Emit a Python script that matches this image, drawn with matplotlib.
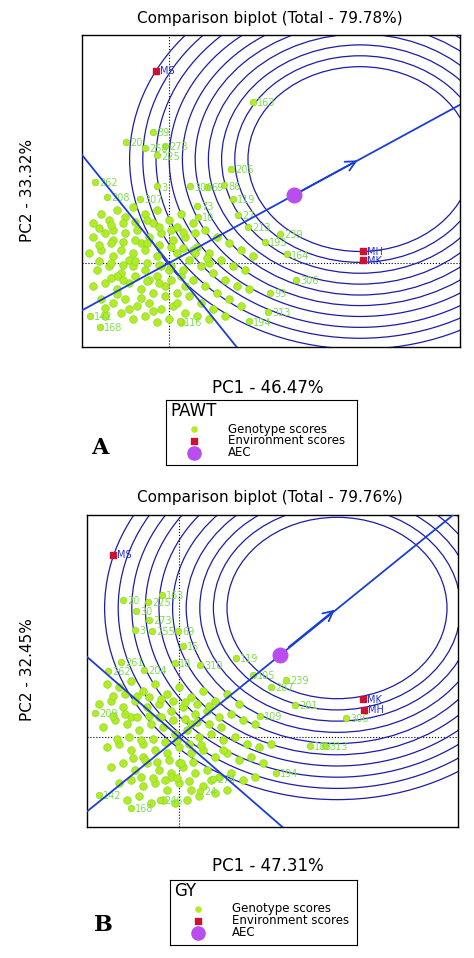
import matplotlib
matplotlib.use("Agg")
import matplotlib.pyplot as plt
import numpy as np
from matplotlib.patches import Ellipse

# ---------------- Panel A data (PAWT) ----------------
A_title = "Comparison biplot (Total - 79.78%)"
A_xlabel = "PC1 - 46.47%"
A_ylabel = "PC2 - 33.32%"
A_lab_names = ["163","39","20","258","273","225","205","262","3","306","69","86","119","208","307","73","10","27","213","239","193","164","306","93","313","194","116","142","168"]
A_lab_x = [2.1,-0.4,-1.07,-0.6,-0.1,-0.3,1.55,-1.85,-0.3,0.52,0.95,1.37,1.6,-1.55,-0.72,0.7,0.72,1.72,1.97,2.77,2.4,2.95,3.17,2.52,2.47,2.0,0.27,-1.97,-1.72]
A_lab_y = [4.87,3.97,3.68,3.48,3.55,3.26,2.84,2.45,2.32,2.32,2.3,2.35,1.94,2.0,1.94,1.74,1.39,1.45,1.1,0.87,0.65,0.26,-0.52,-0.9,-1.48,-1.77,-1.77,-1.6,-1.93]
A_cloud_x = [-1.9,-1.7,-1.5,-1.3,-1.1,-0.9,-0.6,-0.3,0.0,0.3,0.6,0.9,1.2,1.5,1.8,2.1,
             -1.9,-1.6,-1.4,-1.1,-0.8,-0.5,-0.2,0.1,0.4,0.7,1.0,1.3,1.6,1.9,
             -2.0,-1.7,-1.4,-1.2,-0.9,-0.6,-0.3,0.2,0.5,0.8,1.1,1.4,1.7,2.0,
             -1.8,-1.5,-1.2,-0.9,-0.6,-0.3,0.0,0.3,0.6,0.9,1.2,1.5,1.8,
             -1.9,-1.6,-1.3,-1.0,-0.7,-0.4,-0.1,0.2,0.5,0.8,1.1,1.4,
             -1.7,-1.4,-1.1,-0.8,-0.5,-0.2,0.1,0.4,0.7,1.0,
             -1.6,-1.2,-0.9,-0.6,-0.3,0.0,0.3,
             -1.4,-0.4,0.2,-0.7,-1.0,-0.2,0.4,-0.5,-1.3,0.6,1.0,
             -1.75,-1.45,-1.15,-0.85,-0.55,-0.25,0.05,0.35,0.65,
             -1.75,-1.45,-1.15,-0.85,-0.55,-0.25,0.05,0.35,0.65,0.95,
             -1.75,-1.45,-1.15,-0.85,-0.55,-0.25,0.05,0.35,
             -1.45,-1.15,-0.85,-0.55,-0.25,0.05,
             -1.6,-1.0,-0.4,0.2,-1.3,-0.7,-0.1]
A_cloud_y = [1.2,1.5,1.3,1.6,1.4,1.7,1.5,1.6,1.3,1.5,1.2,1.0,0.8,0.6,0.4,0.2,
             0.8,0.9,0.7,0.9,1.0,0.8,0.9,0.7,0.8,0.5,0.3,0.1,-0.1,-0.2,
             0.3,0.4,0.2,0.4,0.3,0.4,0.2,0.3,0.1,-0.1,-0.3,-0.5,-0.7,-0.8,
             -0.2,-0.1,-0.3,-0.1,-0.2,-0.4,-0.2,-0.4,-0.5,-0.7,-0.9,-1.1,-1.3,
             -0.7,-0.6,-0.8,-0.6,-0.8,-0.9,-0.7,-0.9,-1.0,-1.2,-1.4,-1.6,
             -1.1,-1.2,-1.1,-1.3,-1.2,-1.4,-1.3,-1.5,-1.6,-1.7,
             -1.6,-1.5,-1.7,-1.6,-1.8,-1.7,-1.8,
             1.0,1.2,1.1,0.6,0.1,-0.1,-0.7,-0.5,-0.4,0.4,0.0,
             1.05,1.15,1.2,1.25,1.3,1.1,1.0,0.95,0.9,
             0.55,0.6,0.65,0.7,0.6,0.55,0.5,0.45,0.3,0.15,
             0.05,0.0,-0.05,0.05,0.0,-0.05,-0.1,-0.2,
             -0.45,-0.5,-0.4,-0.55,-0.6,-0.5,
             -1.35,-1.4,-1.45,-1.2,-0.95,-1.05,-1.0]
A_env_names = ["MS","MH","MK"]
A_env_x = [-0.33,4.85,4.85]
A_env_y = [5.82,0.36,0.09]
A_aec = (3.125, 2.06)
A_center = (4.775, 3.15)
A_radii = [2.8,3.13,3.46,3.79,4.12,4.44,4.77,5.1,5.43,5.76]
A_xlim = (-2.175, 7.275); A_ylim = (-2.545, 6.91)
A_perp_dir = (66/40, -82/33)

# ---------------- Panel B data (GY) ----------------
B_title = "Comparison biplot (Total - 79.76%)"
B_xlabel = "PC1 - 47.31%"
B_ylabel = "PC2 - 32.45%"
B_lab_names = ["163","20","225","30","273","3","255","69","15","119","261","204","262","105","239","287","201","306","209","109","313","183","194","142","168","246","24","274","18","310"]
B_lab_x = [-0.43,-1.4,-0.78,-1.08,-0.75,-1.1,-0.68,-0.03,0.1,1.43,-1.45,-0.88,-1.78,1.85,2.68,2.3,2.9,4.18,-2.1,2.03,3.65,3.28,2.43,-2.0,-1.2,-0.48,0.53,0.85,-0.1,0.53]
B_lab_y = [4.3,4.15,4.09,3.82,3.55,3.24,3.21,3.21,2.76,2.39,2.27,2.03,2.0,1.88,1.73,1.52,0.97,0.58,0.73,0.64,-0.27,-0.27,-1.09,-1.76,-2.15,-1.91,-1.64,-1.27,2.24,2.18]
B_cloud_x = [-1.8,-1.5,-1.2,-0.9,-0.6,-0.3,0.0,0.3,0.6,0.9,1.2,1.5,
             -2.0,-1.7,-1.4,-1.1,-0.8,-0.5,-0.2,0.1,0.4,0.7,1.0,1.3,1.6,1.9,
             -1.9,-1.6,-1.3,-1.0,-0.7,-0.4,-0.1,0.2,0.5,0.8,1.1,1.4,1.7,2.0,2.3,
             -1.8,-1.5,-1.2,-0.9,-0.6,-0.3,0.0,0.3,0.6,0.9,1.2,1.5,1.8,2.1,
             -1.7,-1.4,-1.1,-0.8,-0.5,-0.2,0.1,0.4,0.7,1.0,1.3,1.6,1.9,
             -1.5,-1.2,-0.9,-0.6,-0.3,0.0,0.3,0.6,0.9,1.2,
             -1.3,-1.0,-0.7,-0.4,-0.1,0.2,0.5,
             -1.2,-0.5,0.3,1.1,-0.9,0.0,0.8,-0.2,
             -1.65,-1.35,-1.05,-0.75,-0.45,-0.15,0.15,0.45,0.75,
             -1.65,-1.35,-1.05,-0.75,-0.45,-0.15,0.15,0.45,0.75,1.05,
             -1.55,-1.25,-0.95,-0.65,-0.35,-0.05,0.25,0.55,
             -1.15,-0.85,-0.55,-0.25,0.05,0.35,
             -0.95,-0.65,-0.35,-0.05,0.25]
B_cloud_y = [1.6,1.5,1.7,1.4,1.6,1.3,1.5,1.2,1.4,1.1,1.3,1.0,
             1.0,1.1,0.9,1.1,0.9,1.0,0.8,0.9,0.7,0.8,0.6,0.7,0.5,0.4,
             0.3,0.5,0.4,0.2,0.4,0.3,0.1,0.2,0.0,0.1,-0.1,0.0,-0.2,-0.3,-0.2,
             -0.3,-0.2,-0.4,-0.2,-0.4,-0.5,-0.3,-0.5,-0.4,-0.6,-0.5,-0.7,-0.6,-0.8,
             -0.9,-0.8,-1.0,-0.8,-1.0,-1.1,-0.9,-1.1,-1.0,-1.2,-1.1,-1.3,-1.2,
             -1.4,-1.3,-1.5,-1.4,-1.6,-1.4,-1.6,-1.5,-1.7,-1.6,
             -1.9,-1.8,-2.0,-1.9,-2.0,-1.9,-1.8,
             0.6,0.6,0.4,-0.4,-0.6,-0.8,-1.3,-1.2,
             1.25,1.3,1.25,1.2,1.15,1.1,1.05,1.0,0.95,
             0.65,0.7,0.6,0.65,0.6,0.5,0.55,0.45,0.4,0.3,
             -0.05,0.0,-0.1,-0.05,-0.15,-0.1,-0.2,-0.25,
             -0.65,-0.7,-0.75,-0.7,-0.8,-0.75,
             -1.2,-1.25,-1.3,-1.25,-1.35]
B_env_names = ["MS","MK","MH"]
B_env_x = [-1.65,4.6,4.62]
B_env_y = [5.52,1.14,0.83]
B_aec = (2.525, 2.48)
B_center = (3.95, 3.91)
B_radii = [2.75,3.09,3.43,3.77,4.11,4.45,4.79,5.13,5.47,5.81]
B_xlim = (-2.3, 6.975); B_ylim = (-2.73, 6.73)
B_perp_dir = (101/40, -88/33)

GEN_FC = "#b4ea26"; GEN_EC = "#86dc2c"; LAB_C = "#80dd50"
RING_C = "#1c1ca8"; AXIS_C = "#1a3ed6"; ENV_C = "#cc1133"; ENV_T = "#2233cc"; AEC_C = "#b84df0"

fig = plt.figure(figsize=(4.74, 9.58), dpi=100)

def panel(rect, xlim, ylim, cx, cy, lx, ly, ln, ex, ey, en, aec, center, radii, perp, title, xl, yl, ylab_y, xlab_y, title_y):
    ax = fig.add_axes(rect)
    ax.set_xlim(*xlim); ax.set_ylim(*ylim)
    ax.set_xticks([]); ax.set_yticks([])
    for s in ax.spines.values():
        s.set_linewidth(1.0)
    for r in radii:
        ax.add_patch(Ellipse(center, 2*r, 2*r, fill=False, ec=RING_C, lw=0.9, zorder=2))
    ax.axhline(0, color="k", ls=":", lw=0.8, zorder=1)
    ax.axvline(0, color="k", ls=":", lw=0.8, zorder=1)
    t = np.array([-10, 10])
    ax.plot(t*aec[0], t*aec[1], color=AXIS_C, lw=1.3, zorder=4)
    ax.plot(t*perp[0], t*perp[1], color=AXIS_C, lw=1.3, zorder=4)
    ax.annotate("", xy=center, xytext=(center[0]-0.5*aec[0], center[1]-0.5*aec[1]),
                arrowprops=dict(arrowstyle="->", color=AXIS_C, lw=1.3, mutation_scale=18), zorder=5)
    ax.scatter(cx, cy, s=30, c=GEN_FC, edgecolors=GEN_EC, linewidths=0.5, zorder=3)
    ax.scatter(lx, ly, s=22, c=GEN_FC, edgecolors=GEN_EC, linewidths=0.5, zorder=3)
    for x, y, n in zip(lx, ly, ln):
        ax.annotate(n, (x, y), xytext=(3, -3), textcoords="offset points", color=LAB_C, fontsize=7, zorder=3)
    ax.scatter(ex, ey, s=20, marker="s", c=ENV_C, zorder=6)
    for x, y, n in zip(ex, ey, en):
        ax.annotate(n, (x, y), xytext=(3, -2.5), textcoords="offset points", color=ENV_T, fontsize=7, zorder=6)
    ax.scatter([aec[0]], [aec[1]], s=110, c=AEC_C, zorder=6)
    fig.text(270/474, 1-title_y/958, title, ha="center", va="center", fontsize=11)
    fig.text(28/474, 1-ylab_y/958, yl, ha="center", va="center", rotation=90, fontsize=11)
    fig.text(268/474, 1-xlab_y/958, xl, ha="center", va="center", fontsize=12)
    return ax

panel([82/474, 1-347/958, 378/474, 312/958], A_xlim, A_ylim, A_cloud_x, A_cloud_y, A_lab_x, A_lab_y, A_lab_names,
      A_env_x, A_env_y, A_env_names, A_aec, A_center, A_radii, A_perp_dir, A_title, A_xlabel, A_ylabel, 190, 388, 18)
panel([87/474, 1-827/958, 371/474, 312/958], B_xlim, B_ylim, B_cloud_x, B_cloud_y, B_lab_x, B_lab_y, B_lab_names,
      B_env_x, B_env_y, B_env_names, B_aec, B_center, B_radii, B_perp_dir, B_title, B_xlabel, B_ylabel, 670, 866, 498)

def legend_box(x0, y0, x1, y1, title):
    lax = fig.add_axes([x0/474, 1-y1/958, (x1-x0)/474, (y1-y0)/958])
    lax.set_xlim(x0, x1); lax.set_ylim(y1, y0)
    lax.set_xticks([]); lax.set_yticks([])
    lax.text(x0+4, y0+11, title, fontsize=12, va="center")
    items = [("Genotype scores", "o", GEN_FC, 14), ("Environment scores", "s", ENV_C, 14), ("AEC", "o", AEC_C, 90)]
    for i, (lab, m, c, s) in enumerate(items):
        yy = y0 + 29 + i*12
        lax.scatter([x0+28], [yy], marker=m, s=s, c=c)
        lax.text(x0+62, yy, lab, fontsize=8.5, va="center")

legend_box(166, 400, 357, 465, "PAWT")
legend_box(170, 880, 357, 945, "GY")
fig.text(100/474, 1-448/958, "A", fontsize=16, fontweight="bold", family="DejaVu Serif", ha="center", va="center")
fig.text(103/474, 1-925/958, "B", fontsize=16, fontweight="bold", family="DejaVu Serif", ha="center", va="center")

fig.savefig("out.png", dpi=100)
